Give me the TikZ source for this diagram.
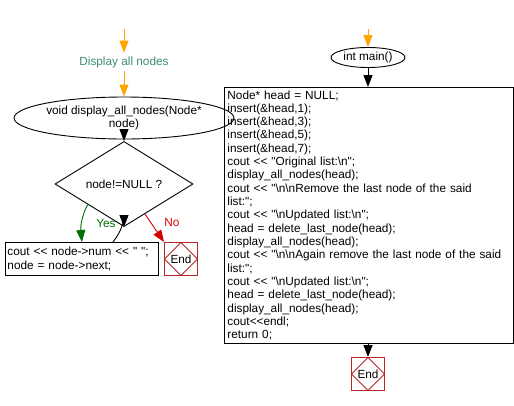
\documentclass[tikz,border=0pt]{standalone}
\usepackage{fontspec}
\usetikzlibrary{shapes.geometric,arrows.meta}
\newfontfamily\arialfont{Liberation Sans}
\newcommand\bsl{\textbackslash}
\definecolor{flowor}{RGB}{255,165,0}
\definecolor{flowteal}{RGB}{60,140,110}
\definecolor{yesgreen}{RGB}{0,110,0}
\definecolor{nored}{RGB}{215,0,0}
\definecolor{endred}{RGB}{180,40,40}
\begin{document}
\begin{tikzpicture}[x=1pt,y=-1pt,line width=0.9pt,
    font={\arialfont\fontsize{11.8pt}{13.33pt}\selectfont},
    tip/.style={-{Triangle[length=12pt,width=9pt]}},
    term/.style={ellipse,draw,inner sep=0pt},
    proc/.style={rectangle,draw,align=left,inner sep=0pt},
    decision/.style={diamond,draw,inner sep=0pt,minimum width=138pt,minimum height=37pt},
    endbox/.style={draw=endred,minimum size=33pt,inner sep=0pt,
      path picture={\draw[endred] (path picture bounding box.north) -- (path picture bounding box.east)
        -- (path picture bounding box.south) -- (path picture bounding box.west) -- cycle;}}]
    \useasboundingbox (0,0) rectangle (514,405);

    \coordinate (startL) at (124,29);
    \node[text=flowteal] (title) at (124,62) {Display all nodes};
    \node[term,minimum width=187pt,minimum height=42pt,align=center] (disp) at (124,118)
      {void display\_all\_nodes(Node*\\node)};
    \node[decision] (cond) at (124,184) {node!=NULL ?};
    \node[proc,minimum width=153pt,minimum height=33pt,text width=149pt,anchor=north west] (body) at (5,242)
      {cout << node->num << " ";\\node = node->next;};
    \node[endbox] (endL) at (181,259) {End};
    \node[text=yesgreen] (yes) at (106,223) {Yes};
    \node[text=nored] (no) at (172,222) {No};

    \draw[flowor,tip] (startL) -- (title.north);
    \draw[flowor,tip] (title.south) -- (disp.north);
    \draw[tip] (disp.south) -- (cond.north);
    \draw[yesgreen,tip] (cond.210) .. controls (86,206) and (80,222) .. (body.north);
    \draw[tip] ([xshift=31pt]body.north) .. controls (121,232) and (124,222) .. (cond.south);
    \draw[nored,tip] (cond.305) -- (endL.north west);

    \coordinate (startR) at (368,29);
    \node[term,minimum width=74pt,minimum height=20pt] (main) at (368,57.5) {int main()};
    \node[proc,minimum width=289pt,minimum height=256pt,text width=283pt,anchor=north west] (code) at (224,87)
      {Node* head = NULL;\\
       insert(\&head,1);\\
       insert(\&head,3);\\
       insert(\&head,5);\\
       insert(\&head,7);\\
       cout << "Original list:\bsl{}n";\\
       display\_all\_nodes(head);\\
       cout << "\bsl{}n\bsl{}nRemove the last node of the said\\
       list:";\\
       cout << "\bsl{}nUpdated list:\bsl{}n";\\
       head = delete\_last\_node(head);\\
       display\_all\_nodes(head);\\
       cout << "\bsl{}n\bsl{}nAgain remove the last node of the said\\
       list:";\\
       cout << "\bsl{}nUpdated list:\bsl{}n";\\
       head = delete\_last\_node(head);\\
       display\_all\_nodes(head);\\
       cout<<endl;\\
       return 0;};
    \node[endbox] (endR) at (368,374) {End};

    \draw[flowor,tip] (startR) -- (main.north);
    \draw[tip] (main.south) -- (code.north -| main.south);
    \draw[tip] (code.south -| endR.north) -- (endR.north);
\end{tikzpicture}
\end{document}
